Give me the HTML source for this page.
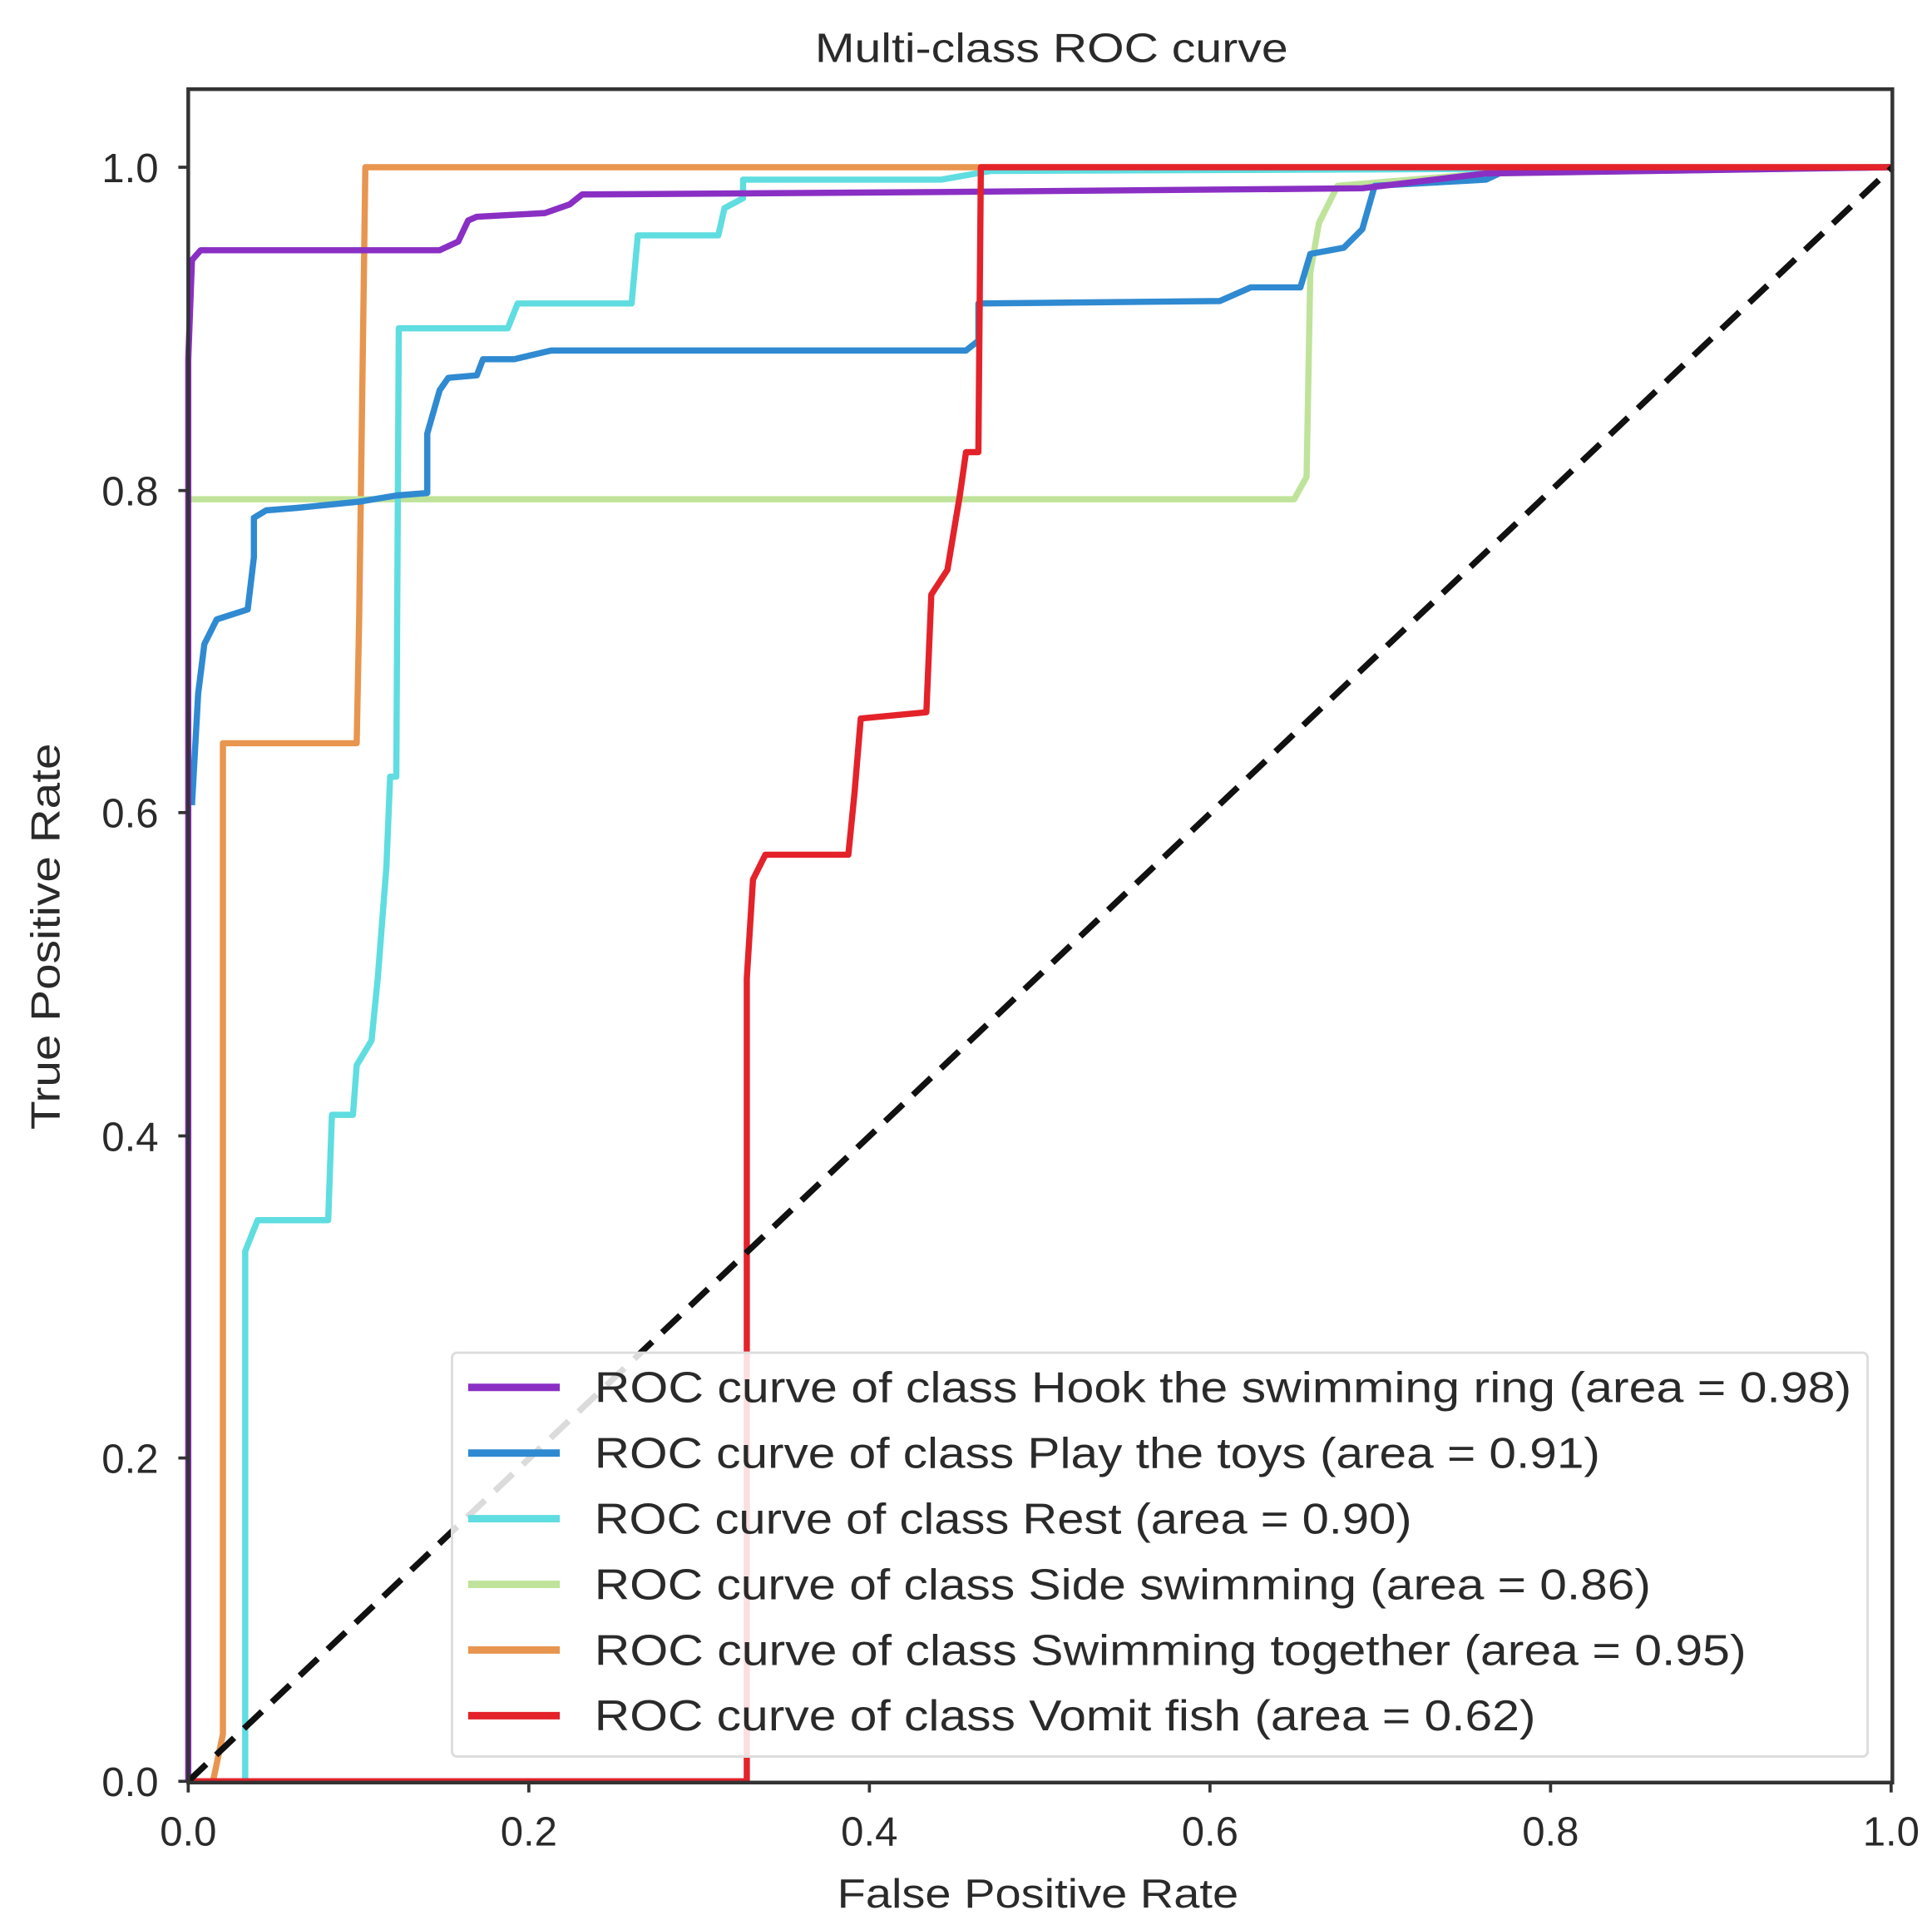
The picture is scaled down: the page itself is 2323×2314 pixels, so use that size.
<!DOCTYPE html>
<html><head><meta charset="utf-8"><style>html,body{margin:0;padding:0;background:#fff}svg{display:block}</style></head>
<body>
<svg width="2323" height="2314" viewBox="0 0 1560 1554" preserveAspectRatio="none" xmlns="http://www.w3.org/2000/svg" font-family="Liberation Sans, DejaVu Sans, sans-serif">
<rect width="1560" height="1554" fill="#fff"/>
<text x="658" y="50" font-size="33" textLength="382" lengthAdjust="spacingAndGlyphs" fill="#2a2a2a">Multi-class ROC curve</text>
<g fill="none" stroke-width="5" stroke-linejoin="round">
<polyline stroke="#e8954f" points="152,1438 172,1438 180,1400 180,600 288,600 290,500 295,135 1528,135"/>
<polyline stroke="#bfe39a" points="152,403 1045,403 1055,385 1058,220 1065,180 1080,150 1200,140 1528,135"/>
<polyline stroke="#5fdde0" points="152,1438 198,1438 198,1010 208,985 265,985 268,900 285,900 288,860 300,840 305,790 312,700 315,627 320,627 322,265 410,265 418,245 510,245 515,190 580,190 585,168 600,160 600,145 760,145 800,138 1528,135"/>
<polyline stroke="#2f8ad1" points="155,650 160,560 165,520 175,500 200,492 205,450 205,418 215,412 240,410 290,405 320,400 345,398 345,350 355,315 362,305 385,303 390,290 415,290 445,283 780,283 790,275 790,245 985,243 1010,232 1050,232 1058,205 1085,200 1100,185 1110,150 1200,145 1215,138 1528,135"/>
<polyline stroke="#8a2fc4" points="152,1438 152,290 155,210 162,202 355,202 370,195 378,178 385,175 440,172 460,165 470,157 760,155 1100,152 1200,140 1528,135"/>
<polyline stroke="#e4222a" points="152,1438 603,1438 603,790 608,710 618,690 685,690 690,640 695,580 748,575 752,480 765,460 775,400 780,365 790,365 792,135 1528,135"/>
</g>
<line x1="152" y1="1438" x2="1528" y2="135" stroke="#111" stroke-width="5" stroke-dasharray="20,11"/>
<rect x="152" y="72" width="1376" height="1367" fill="none" stroke="#333" stroke-width="3"/>
<g stroke="#333" stroke-width="2.5">
<line x1="144" y1="1438" x2="152" y2="1438"/><line x1="144" y1="1177" x2="152" y2="1177"/><line x1="144" y1="917" x2="152" y2="917"/><line x1="144" y1="656" x2="152" y2="656"/><line x1="144" y1="396" x2="152" y2="396"/><line x1="144" y1="135" x2="152" y2="135"/>
<line x1="152" y1="1439" x2="152" y2="1447"/><line x1="427" y1="1439" x2="427" y2="1447"/><line x1="702" y1="1439" x2="702" y2="1447"/><line x1="977" y1="1439" x2="977" y2="1447"/><line x1="1252" y1="1439" x2="1252" y2="1447"/><line x1="1527" y1="1439" x2="1527" y2="1447"/>
</g>
<g font-size="33" fill="#2a2a2a" text-anchor="end">
<text x="128" y="1450">0.0</text><text x="128" y="1189">0.2</text><text x="128" y="929">0.4</text><text x="128" y="668">0.6</text><text x="128" y="408">0.8</text><text x="128" y="147">1.0</text>
</g>
<g font-size="33" fill="#2a2a2a" text-anchor="middle">
<text x="152" y="1490">0.0</text><text x="427" y="1490">0.2</text><text x="702" y="1490">0.4</text><text x="977" y="1490">0.6</text><text x="1252" y="1490">0.8</text><text x="1527" y="1490">1.0</text>
</g>
<g font-size="33" fill="#2a2a2a">
<text x="676" y="1540" textLength="324" lengthAdjust="spacingAndGlyphs">False Positive Rate</text>
<text transform="translate(48,912) rotate(-90)" textLength="312" lengthAdjust="spacingAndGlyphs">True Positive Rate</text>
</g>
<rect x="365" y="1092" width="1143" height="326" rx="4" fill="#fff" fill-opacity="0.85" stroke="#ddd" stroke-width="2"/>
<g stroke-width="6">
<line x1="378" y1="1120" x2="452" y2="1120" stroke="#8a2fc4"/>
<line x1="378" y1="1173" x2="452" y2="1173" stroke="#2f8ad1"/>
<line x1="378" y1="1226" x2="452" y2="1226" stroke="#5fdde0"/>
<line x1="378" y1="1279" x2="452" y2="1279" stroke="#bfe39a"/>
<line x1="378" y1="1332" x2="452" y2="1332" stroke="#e8954f"/>
<line x1="378" y1="1385" x2="452" y2="1385" stroke="#e4222a"/>
</g>
<g font-size="35" fill="#2a2a2a" lengthAdjust="spacingAndGlyphs">
<text x="480" y="1132" textLength="1015" lengthAdjust="spacingAndGlyphs">ROC curve of class Hook the swimming ring (area = 0.98)</text>
<text x="480" y="1185" textLength="812" lengthAdjust="spacingAndGlyphs">ROC curve of class Play the toys (area = 0.91)</text>
<text x="480" y="1238" textLength="660" lengthAdjust="spacingAndGlyphs">ROC curve of class Rest (area = 0.90)</text>
<text x="480" y="1291" textLength="853" lengthAdjust="spacingAndGlyphs">ROC curve of class Side swimming (area = 0.86)</text>
<text x="480" y="1344" textLength="930" lengthAdjust="spacingAndGlyphs">ROC curve of class Swimming together (area = 0.95)</text>
<text x="480" y="1397" textLength="760" lengthAdjust="spacingAndGlyphs">ROC curve of class Vomit fish (area = 0.62)</text>
</g>
</svg>
</body></html>
